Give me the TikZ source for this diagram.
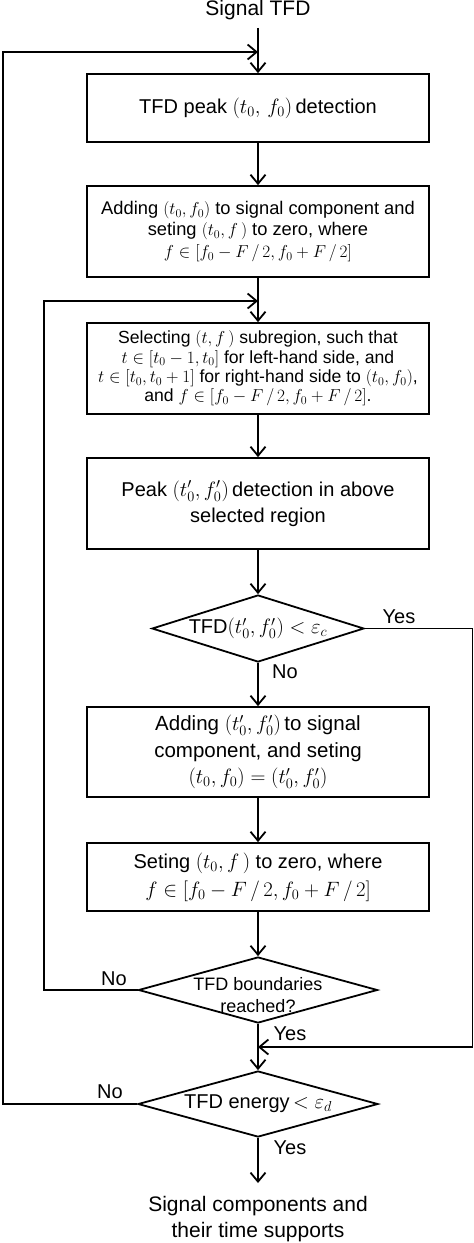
\documentclass[tikz,border=0pt]{standalone}
\usepackage{fontspec}
\setmainfont{Liberation Sans}
\usetikzlibrary{arrows.meta,shapes.geometric}
\begin{document}
\begin{tikzpicture}[x=1pt,y=-1pt,
  every node/.style={font=\fontsize{20}{23}\selectfont},
  box/.style={draw, line width=1.8pt, minimum width=342pt, align=center, inner sep=0pt},
  dec/.style={draw, diamond, line width=1.8pt, inner sep=0pt, aspect=3.2},
  conn/.style={line width=1.8pt, -{Straight Barb[length=9pt,width=15pt]}},
  plain/.style={line width=1.8pt},
  lab/.style={inner sep=0pt}
]
\useasboundingbox (0,0) rectangle (474,1243);

\node[lab, font=\fontsize{21}{24}\selectfont] (in) at (258,10) {Signal TFD};
\coordinate (j1) at (258,52);
\node[box, minimum height=68pt] (b1) at (258,108) {TFD peak $\left(t_0,\, f_0\right)$\,detection};
\node[box, minimum height=91pt, font=\fontsize{18.3}{21.5}\selectfont] (b2) at (258,231.5) {Adding $\left(t_0, f_0\right)$ to signal component and\\ seting $\left(t_0, f\,\right)$ to zero, where\\ $f\in\left[f_0-F\,/\,2, f_0+F\,/\,2\right]$};
\coordinate (j2) at (258,301);
\node[box, minimum height=91pt, font=\fontsize{17.6}{19.3}\selectfont] (b3) at (258,368.5) {Selecting $(t,f\,)$ subregion, such that\\ $t\in[t_0-1,t_0]$ for left-hand side, and\\ $t\in[t_0,t_0+1]$ for right-hand side to $(t_0,f_0)$,\\ and $f\in\left[f_0-F\,/\,2, f_0+F\,/\,2\right]$.};
\node[box, minimum height=91pt, font=\fontsize{20}{26}\selectfont] (b4) at (258,503.5) {Peak $\left(t'_0, f'_0\right)$\,detection in above\\ selected region};
\node[dec, minimum width=212pt, minimum height=67pt] (d1) at (258,628.5) {TFD$\left(t'_0, f'_0\right)<\varepsilon_c$};
\node[box, minimum height=90pt, font=\fontsize{20.5}{26.5}\selectfont] (b5) at (258,752) {Adding $\left(t'_0, f'_0\right)$\,to signal\\ component, and seting\\ $\left(t_0, f_0\right)=\left(t'_0, f'_0\right)$};
\node[box, minimum height=68pt, font=\fontsize{20}{28}\selectfont] (b6) at (258,877) {Seting $\left(t_0, f\,\right)$ to zero, where\\ $f\in\left[f_0-F\,/\,2, f_0+F\,/\,2\right]$};
\node[dec, minimum width=239pt, minimum height=66pt, label={[align=center, inner sep=0pt, font=\fontsize{18}{22}\selectfont, yshift=-5pt]center:TFD boundaries\\reached?}] (d2) at (258,990) {};
\coordinate (j3) at (258,1047);
\node[dec, minimum width=240pt, minimum height=66pt] (d3) at (258,1104) {TFD energy\,$<\varepsilon_d$};
\node[lab, align=center, font=\fontsize{21}{26}\selectfont] (out) at (258,1219) {Signal components and\\ their time supports};

\coordinate (r1) at (472.5,628.5);
\coordinate (r2) at (472.5,1047);
\coordinate (l2a) at (44,990);
\coordinate (l2b) at (44,301);
\coordinate (l3a) at (3,1104);
\coordinate (l3b) at (3,52);
\coordinate (end) at (258,1183);

% main flow
\draw[plain] (in.south) ++(0,8) -- (j1);
\draw[conn] (j1) -- (b1.north);
\draw[conn] (b1) -- (b2);
\draw[plain] (b2.south) -- (j2);
\draw[conn] (j2) -- (b3.north);
\draw[conn] (b3) -- (b4);
\draw[conn] (b4) -- (d1);
\draw[conn] (d1) -- (b5);
\draw[conn] (b5) -- (b6);
\draw[conn] (b6) -- (d2);
\draw[plain] (d2.south) -- (j3);
\draw[conn] (j3) -- (d3.north);
\draw[conn] (d3.south) -- (end);

% loops
\draw[conn] (d1.east) -- (r1) -- (r2) -- (j3);
\draw[conn] (d2.west) -- (l2a) -- (l2b) -- (j2);
\draw[conn] (d3.west) -- (l3a) -- (l3b) -- (j1);

% labels
\node[lab] (y1) at (399,617) {Yes};
\node[lab] (n1) at (285,672) {No};
\node[lab] (n2) at (114,979) {No};
\node[lab] (y2) at (290,1034) {Yes};
\node[lab] (n3) at (110,1092) {No};
\node[lab] (y3) at (290,1148) {Yes};
\end{tikzpicture}
\end{document}
